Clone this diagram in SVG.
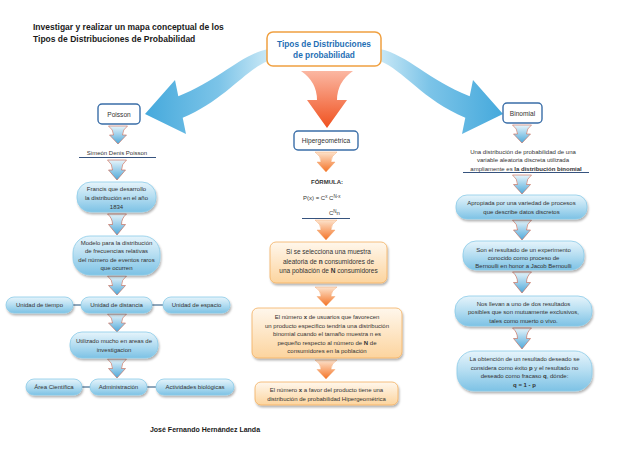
<svg xmlns="http://www.w3.org/2000/svg" xmlns:xlink="http://www.w3.org/1999/xlink" width="638" height="452" viewBox="0 0 638 452">
<defs>
<style>
text{font-family:"Liberation Sans",Arial,sans-serif;fill:#333}
.t{font-size:6px;text-anchor:middle}
.tb{font-weight:bold}
.title{font-size:8.5px;font-weight:bold;fill:#1a1a1a}
.ctitle{font-size:8.3px;font-weight:bold;fill:#1f6fb5;text-anchor:middle}
.pill{fill:url(#gBlue);stroke:#8ccbe8;stroke-width:0.8;filter:url(#sh)}
.obox{fill:url(#gOr);stroke:#f4b060;stroke-width:0.8;filter:url(#sh)}
.hbox{fill:#fff;stroke:#3a6ea8;stroke-width:1.4}
.conn{stroke:#1f4e79;stroke-width:1;fill:none}
.ul{stroke:#1f3f6f;stroke-width:0.9}
</style>
<filter id="sh" x="-10%" y="-20%" width="120%" height="150%">
<feDropShadow dx="1" dy="2" stdDeviation="1" flood-color="#000" flood-opacity="0.3"/>
</filter>
<linearGradient id="gBlue" x1="0" y1="0" x2="0" y2="1">
<stop offset="0" stop-color="#e6f4fb"/>
<stop offset="0.5" stop-color="#b4ddf1"/>
<stop offset="1" stop-color="#7dc2e5"/>
</linearGradient>
<linearGradient id="gOr" x1="0" y1="0" x2="0" y2="1">
<stop offset="0" stop-color="#fff7ec"/>
<stop offset="1" stop-color="#fcd49e"/>
</linearGradient>
<linearGradient id="gSB" x1="0" y1="0" x2="0" y2="1">
<stop offset="0" stop-color="#e8f5fb"/>
<stop offset="1" stop-color="#4ea8d9"/>
</linearGradient>
<linearGradient id="gSO" x1="0" y1="0" x2="0" y2="1">
<stop offset="0" stop-color="#fde3cc"/>
<stop offset="1" stop-color="#f47326"/>
</linearGradient>
<linearGradient id="gBig" x1="0" y1="0" x2="0" y2="1">
<stop offset="0" stop-color="#fbb7a2"/>
<stop offset="1" stop-color="#f0511f"/>
</linearGradient>
<linearGradient id="gCurve" x1="0" y1="0" x2="1" y2="0">
<stop offset="0" stop-color="#45a9dc"/>
<stop offset="0.6" stop-color="#7cc4e8"/>
<stop offset="1" stop-color="#c9e8f6"/>
</linearGradient>
<path id="sab" d="M-9.5,0 L9.5,0 Q4.5,4 4.5,10 L8.5,10 L0,20 L-8.5,10 L-4.5,10 Q-4.5,4 -9.5,0 Z" fill="url(#gSB)" stroke="#c8604a" stroke-width="0.6"/>
<path id="sao" d="M-11,0 L11,0 Q5,4 5,10 L9,10 L0,20 L-9,10 L-5,10 Q-5,4 -11,0 Z" fill="url(#gSO)" stroke="#f39a5a" stroke-width="0.4"/>
</defs>
<rect width="638" height="452" fill="#fff"/>

<g id="title">
<text class="title" x="33" y="30">Investigar y realizar un mapa conceptual de los</text>
<text class="title" x="33" y="41.5">Tipos de Distribuciones de Probabilidad</text>
</g>

<g id="connectors">
<path id="curve-left" d="M268,49 C240,55 220,80 178.3,96.2 L175,80 L145,114 L186,134 L182.7,117.8 C225,100 245,70 268,61 Z" fill="url(#gCurve)"/>
<path id="curve-right" transform="translate(648,0) scale(-1,1)" d="M268,49 C240,55 220,80 178.3,96.2 L175,80 L145,114 L186,134 L182.7,117.8 C225,100 245,70 268,61 Z" fill="url(#gCurve)"/>
<path id="big-down" d="M301,71 L353,71 Q337,82 337,100 L347,100 L327,128 L307,100 L317,100 Q317,82 301,71 Z" fill="url(#gBig)"/>
<use xlink:href="#sab" href="#sab" transform="translate(118,126) scale(1,0.9)"/>
<use xlink:href="#sab" href="#sab" transform="translate(117,160) scale(1,1)"/>
<use xlink:href="#sab" href="#sab" transform="translate(117,214) scale(1,1.05)"/>
<use xlink:href="#sab" href="#sab" transform="translate(117,276) scale(1,0.95)"/>
<use xlink:href="#sab" href="#sab" transform="translate(117,314) scale(1,0.9)"/>
<use xlink:href="#sab" href="#sab" transform="translate(117,359) scale(1,0.95)"/>
<line class="conn" x1="73" y1="305" x2="81" y2="305"/>
<line class="conn" x1="152" y1="305" x2="163" y2="305"/>
<line class="conn" x1="82" y1="387" x2="90" y2="387"/>
<line class="conn" x1="147" y1="387" x2="156" y2="387"/>
<use xlink:href="#sao" href="#sao" transform="translate(326,152) scale(1,1)"/>
<use xlink:href="#sao" href="#sao" transform="translate(326,220) scale(1,1)"/>
<use xlink:href="#sao" href="#sao" transform="translate(326,287) scale(1,0.95)"/>
<use xlink:href="#sao" href="#sao" transform="translate(326,360) scale(1,0.95)"/>
<use xlink:href="#sab" href="#sab" transform="translate(522,125) scale(1,0.9)"/>
<use xlink:href="#sab" href="#sab" transform="translate(522,175) scale(1,0.95)"/>
<use xlink:href="#sab" href="#sab" transform="translate(522,220) scale(1,1)"/>
<use xlink:href="#sab" href="#sab" transform="translate(522,272) scale(1,1.05)"/>
<use xlink:href="#sab" href="#sab" transform="translate(522,328) scale(1,1.05)"/>
</g>

<g id="n-root">
<rect x="267" y="32" width="114" height="34" rx="6" fill="#fff" stroke="#f0a040" stroke-width="1.5"/>
<text class="ctitle" x="324" y="47">Tipos de Distribuciones</text>
<text class="ctitle" x="324" y="58">de probabilidad</text>
</g>

<g id="n-poisson">
<rect class="hbox" x="98" y="104" width="42" height="20" rx="4"/>
<text class="t" x="119" y="116.5" style="font-size:6.6px">Poisson</text>
</g>
<g id="n-simeon">
<text class="t" x="117" y="155">Simeón Denis Poisson</text>
<line class="ul" x1="79" y1="157.5" x2="156" y2="157.5"/>
</g>
<g id="n-francis">
<rect class="pill" x="77" y="182" width="79" height="30" rx="14"/>
<text class="t" x="116.5" y="190.5">Francis que desarrollo</text>
<text class="t" x="116.5" y="199.5">la distribución en el año</text>
<text class="t" x="116.5" y="208.5">1834</text>
</g>
<g id="n-modelo">
<rect class="pill" x="73" y="236" width="87" height="39" rx="17"/>
<text class="t" x="116.5" y="244.5">Modelo para la distribución</text>
<text class="t" x="116.5" y="253">de frecuencias relativas</text>
<text class="t" x="116.5" y="261.5">del número de eventos raros</text>
<text class="t" x="116.5" y="270">que ocurren</text>
</g>
<g id="n-tiempo">
<rect class="pill" x="6" y="297" width="67" height="16" rx="8"/>
<text class="t" x="39.5" y="307.2">Unidad de tiempo</text>
</g>
<g id="n-distancia">
<rect class="pill" x="81" y="297" width="71" height="16" rx="8"/>
<text class="t" x="116.5" y="307.2">Unidad de distancia</text>
</g>
<g id="n-espacio">
<rect class="pill" x="163" y="297" width="67" height="16" rx="8"/>
<text class="t" x="196.5" y="307.2">Unidad de espacio</text>
</g>
<g id="n-utilizado">
<rect class="pill" x="70" y="332" width="88" height="26" rx="12"/>
<text class="t" x="114" y="342.5">Utilizado mucho en areas de</text>
<text class="t" x="114" y="352">investigacion</text>
</g>
<g id="n-area">
<rect class="pill" x="26" y="379" width="56" height="16" rx="8"/>
<text class="t" x="54" y="389.2">Área Científica</text>
</g>
<g id="n-admin">
<rect class="pill" x="90" y="379" width="57" height="16" rx="8"/>
<text class="t" x="118.5" y="389.2">Administración</text>
</g>
<g id="n-activ">
<rect class="pill" x="156" y="379" width="78" height="16" rx="8"/>
<text class="t" x="195" y="389.2">Actividades biológicas</text>
</g>

<g id="n-hiper">
<rect class="hbox" x="294" y="131" width="64" height="19" rx="4"/>
<text class="t" x="326" y="143" style="font-size:6.6px">Hipergeométrica</text>
</g>
<g id="n-formula">
<text class="t tb" x="327" y="184" style="font-size:6px">FÓRMULA:</text>
<text x="303" y="200" style="font-size:6px">P(x) = C<tspan dy="-2" style="font-size:4.5px">x</tspan><tspan dy="2"> C</tspan><tspan dy="-2" style="font-size:4.5px">N-x</tspan></text>
<text x="329" y="215" style="font-size:6px">C<tspan dy="-2" style="font-size:4.5px">N</tspan><tspan dy="2">n</tspan></text>
<line class="ul" x1="302" y1="218.5" x2="350" y2="218.5"/>
</g>
<g id="n-si">
<rect class="obox" x="270" y="242" width="117" height="41" rx="6"/>
<text class="t" x="328.5" y="254" style="font-size:6.5px">Si se selecciona una muestra</text>
<text class="t" x="328.5" y="263.5" style="font-size:6.5px">aleatoria de <tspan class="tb">n</tspan> consumidores de</text>
<text class="t" x="328.5" y="273" style="font-size:6.5px">una población de <tspan class="tb">N</tspan> consumidores</text>
</g>
<g id="n-elnum">
<rect class="obox" x="252" y="308" width="150" height="50" rx="6"/>
<text class="t" x="327" y="319">El número <tspan class="tb">x</tspan> de usuarios que favorecen</text>
<text class="t" x="327" y="327.5">un producto especifico tendría una distribución</text>
<text class="t" x="327" y="336">binomial cuando el tamaño muestra n es</text>
<text class="t" x="327" y="344.5">pequeño respecto al número de <tspan class="tb">N</tspan> de</text>
<text class="t" x="327" y="353">consumidores en la población</text>
</g>
<g id="n-favor">
<rect class="obox" x="255" y="382" width="143" height="23" rx="6"/>
<text class="t" x="326.5" y="392">El número <tspan class="tb">x</tspan> a favor del producto tiene una</text>
<text class="t" x="326.5" y="400.5">distribución de probabilidad Hipergeométrica</text>
</g>

<g id="n-binomial">
<rect class="hbox" x="503" y="103" width="39" height="20" rx="4"/>
<text class="t" x="522.5" y="115.5" style="font-size:6.6px">Binomial</text>
</g>
<g id="n-unadist">
<text class="t" x="523" y="153.5">Una distribución de probabilidad de una</text>
<text class="t" x="523" y="162">variable aleatoria discreta utilizada</text>
<text class="t" x="526" y="170.5">ampliamente es  <tspan class="tb">la distribución binomial</tspan></text>
<line class="ul" x1="463" y1="172.5" x2="589" y2="172.5"/>
</g>
<g id="n-apropiada">
<rect class="pill" x="456" y="195" width="131" height="24" rx="11"/>
<text class="t" x="521.5" y="205">Apropiada por una variedad de procesos</text>
<text class="t" x="521.5" y="214">que describe datos discretos</text>
</g>
<g id="n-son">
<rect class="pill" x="463" y="241" width="121" height="29" rx="13"/>
<text class="t" x="523.5" y="251.5">Son el resultado de un experimento</text>
<text class="t" x="523.5" y="259.5">conocido como proceso de</text>
<text class="t" x="523.5" y="267.5">Bernoulli en honor a Jacob Bernoulli</text>
</g>
<g id="n-nos">
<rect class="pill" x="455" y="296" width="137" height="30" rx="14"/>
<text class="t" x="523.5" y="305.5">Nos llevan a uno de dos resultados</text>
<text class="t" x="523.5" y="314">posibles que son mutuamente exclusivos,</text>
<text class="t" x="523.5" y="322.5">tales como muerto o vivo.</text>
</g>
<g id="n-obtencion">
<rect class="pill" x="457" y="351" width="135" height="40" rx="17"/>
<text class="t" x="524.5" y="361">La obtención de un resultado deseado se</text>
<text class="t" x="524.5" y="369.5">considera como éxito <tspan class="tb">p</tspan> y el resultado no</text>
<text class="t" x="524.5" y="378">deseado como fracaso <tspan class="tb">q</tspan>, dónde:</text>
<text class="t tb" x="524.5" y="386.5">q = 1 - p</text>
</g>

<g id="author">
<text x="205" y="432" style="font-size:7px;font-weight:bold;text-anchor:middle;fill:#1a1a1a">José Fernando Hernández Landa</text>
</g>
</svg>
